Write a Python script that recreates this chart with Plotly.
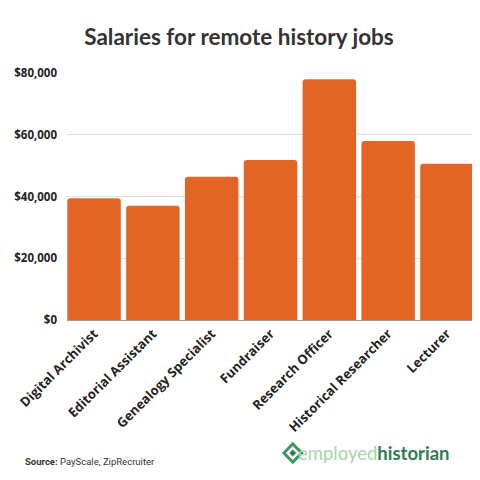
import plotly.graph_objects as go

jobs = ["Digital Archivist", "Editorial Assistant", "Genealogy Specialist", "Fundraiser",
        "Research Officer", "Historical Researcher", "Lecturer"]
salaries = [39400, 37000, 46400, 51800, 78000, 58000, 50600]
y_ticks = [0, 20000, 40000, 60000, 80000]
y_tick_labels = ["$0", "$20,000", "$40,000", "$60,000", "$80,000"]

# page body has an 8px margin, so the figure is 472 px and offsets are compensated
W = H = 472
fig = go.Figure(go.Bar(
    x=jobs, y=salaries,
    marker=dict(color="#E36526", cornerradius=3, line=dict(width=0)),
))

fig.update_layout(
    width=W, height=H,
    margin=dict(l=55, r=6, t=65, b=160),
    paper_bgcolor="white", plot_bgcolor="white",
    bargap=0.091,
    showlegend=False,
    title=dict(text="Salaries for remote history jobs", x=(239 - 8) / W, xref="container",
               xanchor="center",
               y=1 - (37 - 8) / H, yref="container", yanchor="middle",
               font=dict(family="Lato", size=22.5, color="#333333", weight=700)),
    font=dict(family="Open Sans", color="#222222"),
)

fig.update_yaxes(
    range=[0, 80000], tickvals=y_ticks, ticktext=y_tick_labels,
    showgrid=True, gridcolor="#dddddd", gridwidth=1, zeroline=False,
    tickfont=dict(family="Open Sans", size=11.5, color="#222222", weight=700),
    ticks="", ticklabelstandoff=9,
)
fig.update_xaxes(
    range=[-0.46, 6.46],
    tickangle=-45,
    tickfont=dict(family="Open Sans", size=13, color="#222222", weight=700),
    showline=True, linecolor="#999999", linewidth=1,
    ticks="",
)

fig.add_annotation(
    xref="paper", yref="paper", x=(19 - 63) / 411, y=-(462 - 320) / 247,
    xanchor="left", yanchor="middle", showarrow=False,
    text="<b>Source:</b> PayScale, ZipRecruiter",
    font=dict(family="Roboto", size=9.5, color="#333333"),
)
fig.add_annotation(
    xref="paper", yref="paper", x=(294 - 63) / 411, y=-(453 - 320) / 247,
    xanchor="left", yanchor="middle", showarrow=False,
    text="<span style='color:#a5d6a7'>employed</span><b style='color:#2e7d4f'>historian</b>",
    font=dict(family="Lato", size=18.5),
)
# logo icon: rotated square outline
cx, cy = 291, 453
def diamond(r):
    return " ".join([
        f"M {(cx - 63 - r) / 411} {-(cy - 320) / 247}",
        f"L {(cx - 63) / 411} {-(cy - r - 320) / 247}",
        f"L {(cx - 63 + r) / 411} {-(cy - 320) / 247}",
        f"L {(cx - 63) / 411} {-(cy + r - 320) / 247} Z"])
fig.add_shape(type="path", xref="paper", yref="paper", path=diamond(9),
              fillcolor="white", line=dict(color="#3a9a62", width=3))
fig.add_shape(type="path", xref="paper", yref="paper", path=diamond(3.5),
              fillcolor="#2e7d4f", line=dict(width=0))

fig.write_html("out.html")
